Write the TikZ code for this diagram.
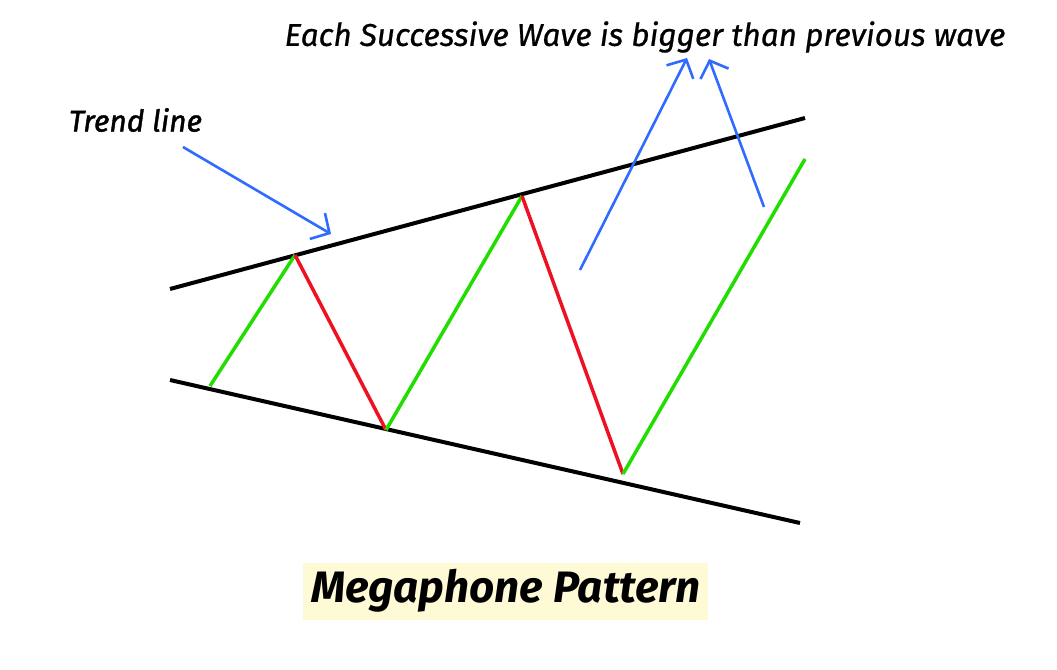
\documentclass[tikz,border=0pt]{standalone}
\usepackage{fontspec}
\setmainfont{Fira Sans}
\newfontfamily\midfont{Fira Sans}[FakeBold=0.7]
\newfontfamily\semifont{Fira Sans}[FakeBold=1.4]
\usetikzlibrary{arrows.meta}
\definecolor{wblue}{HTML}{2F6BFF}
\definecolor{wgreen}{HTML}{22DD00}
\definecolor{wred}{HTML}{EE1122}
\definecolor{pale}{HTML}{FFFAD6}
\begin{document}
\begin{tikzpicture}[x=1pt,y=-1pt,
  trend/.style={line width=4pt,black},
  up/.style={line width=3.5pt,wgreen},
  down/.style={line width=3.5pt,wred},
  pointer/.style={line width=2.6pt,wblue,-{Straight Barb[length=14pt,width=30pt,line width=2.6pt]}},
  lbl/.style={font=\itshape,inner sep=0pt}]
\useasboundingbox (0,0) rectangle (1057,669);
% trend lines
\coordinate (ua) at (170,289); \coordinate (ub) at (805,118);
\coordinate (la) at (170,380); \coordinate (lb) at (800,523);
\draw[trend] (ua) -- (ub);
\draw[trend] (la) -- (lb);
% waves
\coordinate (p0) at (210,386);
\coordinate (p1) at (295,255);
\coordinate (p2) at (386,430);
\coordinate (p3) at (522,196);
\coordinate (p4) at (623,474);
\coordinate (p5) at (805,159);
\draw[up] (p0) -- (p1);
\draw[down] (p1) -- (p2);
\draw[up] (p2) -- (p3);
\draw[down] (p3) -- (p4);
\draw[up] (p4) -- (p5);
% labels
\node[lbl,font=\semifont\itshape\fontsize{30}{36}\selectfont] (tl) at (135.5,120) {Trend line};
\node[lbl,font=\midfont\itshape\fontsize{31.5}{38}\selectfont] (top) at (645,37) {Each Successive Wave is bigger than previous wave};
\node[fill=pale,minimum width=405pt,minimum height=57pt,inner sep=0pt] (box) at (505.5,591.5) {};
\node[lbl,font=\bfseries\itshape\fontsize{44}{53}\selectfont] (mp) at (506,591) {Megaphone Pattern};
% blue arrows
\coordinate (a1s) at (183,147); \coordinate (a1e) at (331,234);
\coordinate (a2s) at (580,270); \coordinate (a2e) at (687,58);
\coordinate (a3s) at (764,207); \coordinate (a3e) at (709,59);
\draw[pointer] (a1s) -- (a1e);
\draw[pointer] (a2s) -- (a2e);
\draw[pointer] (a3s) -- (a3e);
\end{tikzpicture}
\end{document}
